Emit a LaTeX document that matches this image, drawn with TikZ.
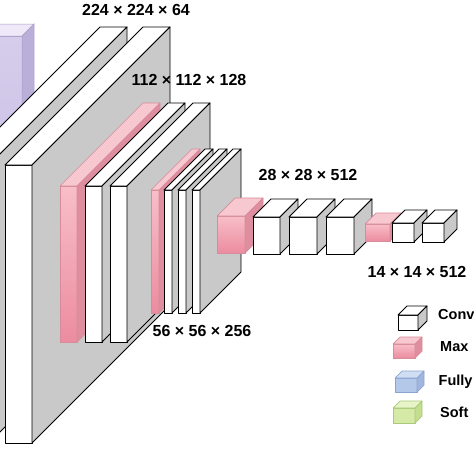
\documentclass[tikz,border=0pt]{standalone}
\usepackage{fontspec}
\setmainfont{Liberation Sans}
\definecolor{sidegray}{RGB}{201,201,201}
\definecolor{pinkTop}{RGB}{248,200,208}
\definecolor{pinkA}{RGB}{248,190,200}
\definecolor{pinkB}{RGB}{236,140,160}
\definecolor{pinkSide}{RGB}{222,142,158}
\definecolor{pinkLine}{RGB}{214,140,154}
\definecolor{purFront}{RGB}{214,205,236}
\definecolor{purFrontB}{RGB}{196,185,224}
\definecolor{purTop}{RGB}{238,232,248}
\definecolor{purSide}{RGB}{186,175,216}
\definecolor{purLine}{RGB}{170,160,200}
\definecolor{bluFront}{RGB}{180,200,234}
\definecolor{bluTop}{RGB}{208,222,244}
\definecolor{bluSide}{RGB}{160,182,222}
\definecolor{bluLine}{RGB}{140,164,208}
\definecolor{grnFront}{RGB}{214,234,168}
\definecolor{grnTop}{RGB}{230,244,200}
\definecolor{grnSide}{RGB}{194,222,142}
\definecolor{grnLine}{RGB}{170,202,120}
\newcommand\cuboid[8]{%
  \path[#6] (#1,#2) rectangle ++(#3,#4);
  \path[#7] (#1,#2) -- ++(#5,-#5) -- ++(#3,0) -- ++(-#5,#5) -- cycle;
  \path[#8] ({#1+#3},#2) -- ++(#5,-#5) -- ++(0,#4) -- ++(-#5,#5) -- cycle;
}
\tikzset{
  wfront/.style={draw=black, fill=white, line width=0.9pt, line join=round},
  wside/.style={draw=black, fill=sidegray, line width=0.9pt, line join=round},
  pfront/.style={draw=pinkLine, top color=pinkA, bottom color=pinkB, line width=0.7pt, line join=round},
  ptop/.style={draw=pinkLine, fill=pinkTop, line width=0.7pt, line join=round},
  pside/.style={draw=pinkLine, fill=pinkSide, line width=0.7pt, line join=round},
  ufront/.style={draw=purLine, top color=purFront, bottom color=purFrontB, line width=0.5pt},
  utop/.style={draw=purLine, fill=purTop, line width=0.5pt},
  uside/.style={draw=purLine, fill=purSide, line width=0.5pt},
  bfront/.style={draw=bluLine, fill=bluFront, line width=0.7pt, line join=round},
  btop/.style={draw=bluLine, fill=bluTop, line width=0.7pt, line join=round},
  bside/.style={draw=bluLine, fill=bluSide, line width=0.7pt, line join=round},
  gfront/.style={draw=grnLine, fill=grnFront, line width=0.7pt, line join=round},
  gtop/.style={draw=grnLine, fill=grnTop, line width=0.7pt, line join=round},
  gside/.style={draw=grnLine, fill=grnSide, line width=0.7pt, line join=round},
  dimlabel/.style={font=\fontsize{16}{18}\selectfont\bfseries, inner sep=0pt},
  leglabel/.style={font=\fontsize{14.5}{17}\selectfont\bfseries, inner sep=0pt, anchor=west}
}
\begin{document}
\begin{tikzpicture}[x=1pt,y=-1pt]
\useasboundingbox (0,0) rectangle (474,474);
\fill[white] (0,0) rectangle (474,474);
\begin{scope}
\clip (0,0) rectangle (474,474);
% input (purple)
\cuboid{-80}{36}{102}{250}{12}{ufront}{utop}{uside}
% group 1: 224 x 224 x 64
\cuboid{-38}{165}{27}{278}{138}{wfront}{wfront}{wside}
\cuboid{5}{165}{27}{278}{138}{wfront}{wfront}{wside}
% group 2: 112 x 112 x 128
\cuboid{60}{186}{17}{156}{83}{pfront}{ptop}{pside}
\cuboid{85}{186}{17}{156}{83}{wfront}{wfront}{wside}
\cuboid{110}{186}{17}{156}{83}{wfront}{wfront}{wside}
% group 3: 56 x 56 x 256
\cuboid{151}{190}{8}{123}{41}{pfront}{ptop}{pside}
\cuboid{164}{190}{8}{123}{41}{wfront}{wfront}{wside}
\cuboid{178}{190}{8}{123}{41}{wfront}{wfront}{wside}
\cuboid{192}{190}{8}{123}{41}{wfront}{wfront}{wside}
% group 4: 28 x 28 x 512
\cuboid{217}{216}{28}{37}{18}{pfront}{ptop}{pside}
\cuboid{253}{217}{27}{37}{18}{wfront}{wfront}{wside}
\cuboid{289}{217}{28}{37}{18}{wfront}{wfront}{wside}
\cuboid{326}{217}{28}{37}{18}{wfront}{wfront}{wside}
% group 5: 14 x 14 x 512
\cuboid{365}{224}{25}{17}{11}{pfront}{ptop}{pside}
\cuboid{392}{223}{22}{19}{13}{wfront}{wfront}{wside}
\cuboid{422}{223}{22}{19}{13}{wfront}{wfront}{wside}
% legend icons
\cuboid{398}{315}{20}{15}{9}{wfront}{wfront}{wside}
\cuboid{393}{344}{22}{14}{7}{pfront}{ptop}{pside}
\cuboid{395}{378}{22}{14}{7}{bfront}{btop}{bside}
\cuboid{393}{408}{22}{15}{7}{gfront}{gtop}{gside}
% labels
\node[dimlabel] (l224) at (136,10) {224 × 224 × 64};
\node[dimlabel] (l112) at (189,80) {112 × 112 × 128};
\node[dimlabel] (l56) at (202,331) {56 × 56 × 256};
\node[dimlabel] (l28) at (308,175) {28 × 28 × 512};
\node[dimlabel] (l14) at (417,272) {14 × 14 × 512};
\node[leglabel] (lconv) at (438,315) {Conv};
\node[leglabel] (lmax) at (440,347) {Max};
\node[leglabel] (lfc) at (438.5,382) {Fully};
\node[leglabel] (lsoft) at (440,412) {Soft};
\end{scope}
\end{tikzpicture}
\end{document}
